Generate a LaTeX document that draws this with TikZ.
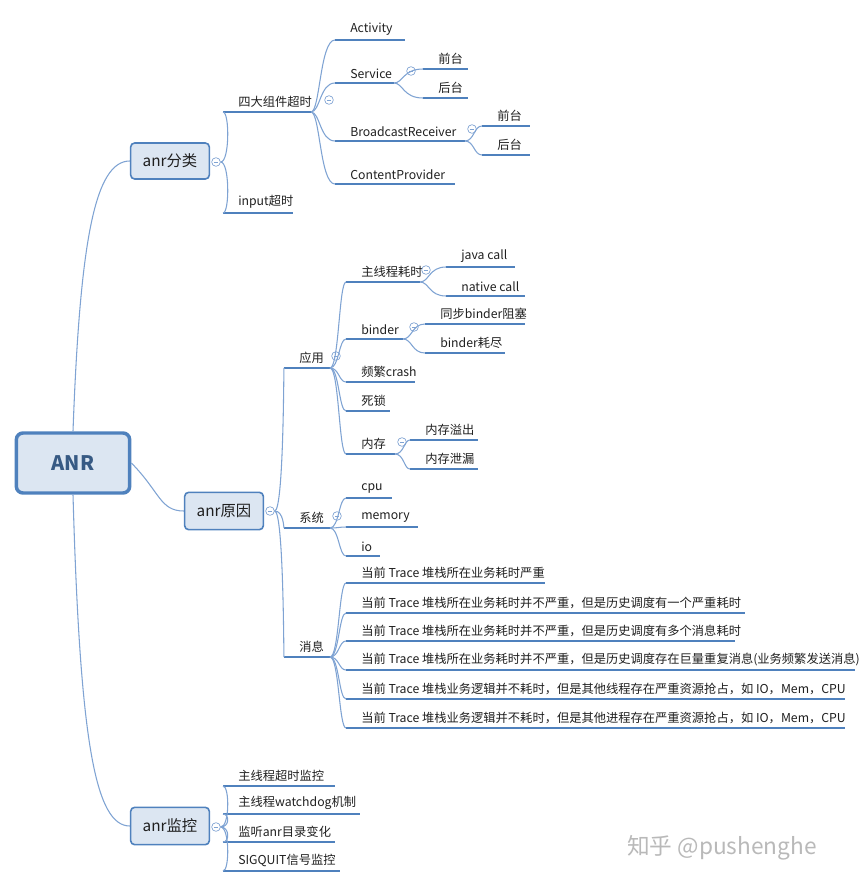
\documentclass[tikz,border=0pt]{standalone}
\usepackage{fontspec}
\setmainfont{Noto Sans CJK SC}
\usetikzlibrary{calc}
\definecolor{ln}{HTML}{7FA3D3}
\definecolor{ul}{HTML}{4F81BD}
\definecolor{bfill}{HTML}{DCE6F2}
\definecolor{txt}{HTML}{1F1F1F}
\tikzset{
  conn/.style={draw=ln,line width=0.8pt},
  uline/.style={draw=ul,line width=1.5pt},
  lbl/.style={anchor=south west,inner sep=0pt,font=\fontsize{9.2}{11}\selectfont,text=txt},
  box/.style={draw=ul,fill=bfill,rounded corners=3pt,line width=1.2pt,font=\fontsize{11.5}{13}\selectfont,text=txt,inner sep=0pt},
  tog/.style={circle,draw=ln,fill=white,minimum size=6.5pt,inner sep=0pt,line width=0.5pt,
    path picture={\draw[ln,line width=0.5pt] ($(path picture bounding box.west)+(1.6pt,0)$)--($(path picture bounding box.east)-(1.6pt,0)$);}}
}
\newcommand{\leaf}[5]{%
  \coordinate (#1-s) at (#2,#4);
  \coordinate (#1-e) at (#3,#4);
  \draw[uline] (#1-s)--(#1-e);
  \node[lbl] (#1) at ($(#1-s)+(15,-4)$) {#5};}
\newcommand{\conn}[2]{\draw[conn] (#1) .. controls ($(#1)+(9,0)$) and ($(#1 |- #2)+(9,0)$) .. (#2);}
\begin{document}
\begin{tikzpicture}[x=0.75pt,y=-0.75pt]
\useasboundingbox (0,0) rectangle (865,885);
% root
\node[box,line width=2.6pt,rounded corners=5pt,minimum width=85pt,minimum height=45pt,font=\fontsize{15}{18}\selectfont\bfseries,text=ul!70!black] (anr) at (73,463) {ANR};
\node[box,minimum width=59pt,minimum height=27pt] (c1) at (170,161) {anr分类};
\node[box,minimum width=59pt,minimum height=28pt] (c2) at (224,511) {anr原因};
\node[box,minimum width=59pt,minimum height=28pt] (c3) at (170,826) {anr监控};
\draw[conn] (anr.north) .. controls (80,240) and (95,161) .. (c1.west);
\draw[conn] (anr.east) .. controls (160,492) and (160,511) .. (c2.west);
\draw[conn] (anr.south) .. controls (80,740) and (95,826) .. (c3.west);
\node[tog] (t1) at (216,162) {};
\node[tog] (t2) at (270,511) {};
\node[tog] (t3) at (216,827) {};
% anr分类
\leaf{sd}{223}{311}{112}{四大组件超时}
\leaf{inp}{223}{293}{213}{input超时}
\conn{t1.east}{sd-s}\conn{t1.east}{inp-s}
\node[tog] (tsd) at (329,100) {};
\leaf{act}{335}{405}{40}{Activity}
\leaf{svc}{335}{394}{83}{Service}
\leaf{br}{335}{465}{141}{BroadcastReceiver}
\leaf{cp}{335}{455}{184}{ContentProvider}
\foreach \c in {act,svc,br,cp}{\conn{sd-e}{\c-s}}
\node[tog] (tsvc) at (411,71) {};
\leaf{sf}{423}{468}{69}{前台}
\leaf{sb}{423}{468}{98}{后台}
\conn{svc-e}{sf-s}\conn{svc-e}{sb-s}
\node[tog] (tbr) at (472,129) {};
\leaf{bf}{482}{530}{126}{前台}
\leaf{bb}{482}{530}{155}{后台}
\conn{br-e}{bf-s}\conn{br-e}{bb-s}
% anr原因
\leaf{yy}{284}{330}{368}{应用}
\leaf{xt}{284}{330}{528}{系统}
\leaf{xx}{284}{330}{657}{消息}
\conn{t2.east}{yy-s}\conn{t2.east}{xt-s}\conn{t2.east}{xx-s}
\node[tog] (tyy) at (336,356) {};
\node[tog] (txt) at (337,516) {};
\leaf{zx}{346}{420}{282}{主线程耗时}
\leaf{bd}{346}{403}{339}{binder}
\leaf{pf}{346}{415}{382}{频繁crash}
\leaf{sl}{346}{390}{411}{死锁}
\leaf{nc}{346}{395}{454}{内存}
\foreach \c in {zx,bd,pf,sl,nc}{\conn{yy-e}{\c-s}}
\node[tog] (tzx) at (426,270) {};
\leaf{jc}{446}{515}{267}{java call}
\leaf{nv}{446}{525}{296}{native call}
\conn{zx-e}{jc-s}\conn{zx-e}{nv-s}
\node[tog] (tbd) at (414,327) {};
\leaf{tb}{425}{525}{324}{同步binder阻塞}
\leaf{be}{425}{505}{353}{binder耗尽}
\conn{bd-e}{tb-s}\conn{bd-e}{be-s}
\node[tog] (tnc) at (402,442) {};
\leaf{ny}{410}{478}{440}{内存溢出}
\leaf{nl}{410}{478}{469}{内存泄漏}
\conn{nc-e}{ny-s}\conn{nc-e}{nl-s}
\leaf{cpu}{346}{392}{498}{cpu}
\leaf{mem}{346}{418}{527}{memory}
\leaf{io}{346}{380}{556}{io}
\foreach \c in {cpu,mem,io}{\conn{xt-e}{\c-s}}
\leaf{m1}{346}{545}{583}{当前 Trace 堆栈所在业务耗时严重}
\leaf{m2}{346}{745}{613}{当前 Trace 堆栈所在业务耗时并不严重，但是历史调度有一个严重耗时}
\leaf{m3}{346}{735}{641}{当前 Trace 堆栈所在业务耗时并不严重，但是历史调度有多个消息耗时}
\leaf{m4}{346}{855}{670}{当前 Trace 堆栈所在业务耗时并不严重，但是历史调度存在巨量重复消息(业务频繁发送消息)}
\leaf{m5}{346}{845}{699}{当前 Trace 堆栈业务逻辑并不耗时，但是其他线程存在严重资源抢占，如 IO，Mem，CPU}
\leaf{m6}{346}{845}{728}{当前 Trace 堆栈业务逻辑并不耗时，但是其他进程存在严重资源抢占，如 IO，Mem，CPU}
\foreach \c in {m1,m2,m3,m4,m5,m6}{\conn{xx-e}{\c-s}}
% anr监控
\leaf{k1}{223}{335}{786}{主线程超时监控}
\leaf{k2}{223}{360}{814}{主线程watchdog机制}
\leaf{k3}{223}{335}{842}{监听anr目录变化}
\leaf{k4}{223}{340}{871}{SIGQUIT信号监控}
\foreach \c in {k1,k2,k3,k4}{\conn{t3.east}{\c-s}}
\node[anchor=west,inner sep=0pt,text=gray!55,font=\fontsize{17}{20}\selectfont] (wm) at (627,848) {知乎 @pushenghe};
\end{tikzpicture}
\end{document}
